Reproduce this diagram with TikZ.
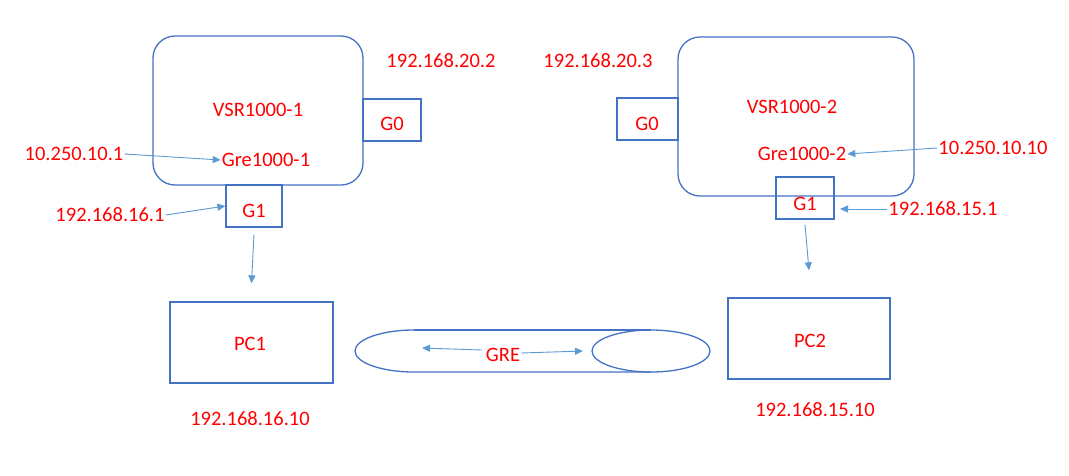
\documentclass[tikz,border=0pt]{standalone}
\usepackage{fontspec}
\setmainfont{Carlito}
\usetikzlibrary{arrows.meta}
\definecolor{boxblue}{RGB}{68,114,196}
\definecolor{arrblue}{RGB}{91,155,213}
\begin{document}
\begin{tikzpicture}[x=1pt,y=-1pt,
            box/.style={rectangle,draw=boxblue,line width=1.3pt,inner sep=0pt},
            router/.style={box,rounded corners=22pt},
            lbl/.style={text=red,font=\fontsize{20.5}{22}\selectfont,inner sep=1pt},
            arr/.style={draw=arrblue,line width=0.9pt,-{Triangle[length=8pt,width=7pt]}}
        ]
            \useasboundingbox[fill=white] (0,0) rectangle (1069,475);
            % left side
            \node[router,minimum width=210pt,minimum height=149pt] (vsr1) at (258,110.5) {};
            \node[box,minimum width=58pt,minimum height=42pt] (g0a) at (392,120) {};
            \node[box,minimum width=56pt,minimum height=42pt] (g1a) at (254,206) {};
            \node[box,minimum width=163pt,minimum height=81pt] (pc1) at (251.5,342.5) {};
            \node[lbl] at (258,110) {VSR1000-1};
            \node[lbl] (gre1) at (266,160) {Gre1000-1};
            \node[lbl] at (392,124) {G0};
            \node[lbl] at (254,211) {G1};
            \node[lbl] at (250,344) {PC1};
            \node[lbl] at (441,61) {192.168.20.2};
            \node[lbl] (ip1) at (74,154) {10.250.10.1};
            \node[lbl] (ip2) at (110,215) {192.168.16.1};
            \node[lbl] at (250,419) {192.168.16.10};
            \draw[arr] (ip1.east) -- (gre1.west);
            \draw[arr] (ip2.east) -- (g1a.west);
            \draw[arr] ([yshift=-7pt]g1a.south) -- ([yshift=18pt]pc1.north);
            % right side
            \node[router,minimum width=236pt,minimum height=159pt] (vsr2) at (796,116.5) {};
            \node[box,minimum width=61pt,minimum height=42pt] (g0b) at (647.5,119) {};
            \node[box,minimum width=58pt,minimum height=42pt] (g1b) at (805,198) {};
            \node[box,minimum width=162pt,minimum height=81pt] (pc2) at (809,338.5) {};
            \node[lbl] at (792,107) {VSR1000-2};
            \node[lbl] (gre2) at (802,154) {Gre1000-2};
            \node[lbl] at (647,124) {G0};
            \node[lbl] at (805,204) {G1};
            \node[lbl] at (810,341) {PC2};
            \node[lbl] at (598,61) {192.168.20.3};
            \node[lbl] (ip3) at (993,148) {10.250.10.10};
            \node[lbl] (ip4) at (943,209) {192.168.15.1};
            \node[lbl] at (815,410) {192.168.15.10};
            \coordinate (g1bin) at (840,209);
            \draw[arr] (ip3.west) -- (gre2.east);
            \draw[arr] (ip4.west) -- (g1bin);
            \draw[arr] ([yshift=-5pt]g1b.south) -- ([yshift=27pt]pc2.north);
            % tunnel
            \draw[boxblue,line width=1.3pt] (414,330) arc[start angle=90,end angle=270,x radius=59pt,y radius=21pt] -- (651,372);
            \draw[boxblue,line width=1.3pt] (414,330) -- (651,330);
            \draw[boxblue,line width=1.3pt] (651,351) ellipse[x radius=59pt,y radius=21pt];
            \node[lbl] (gre) at (503,355) {GRE};
            \coordinate (tl) at (422,348);
            \coordinate (tr) at (583,351);
            \draw[arr] ([xshift=-3pt,yshift=5pt]gre.west) -- (tl);
            \draw[arr] ([yshift=2pt]gre.east) -- (tr);
        \end{tikzpicture}
\end{document}
